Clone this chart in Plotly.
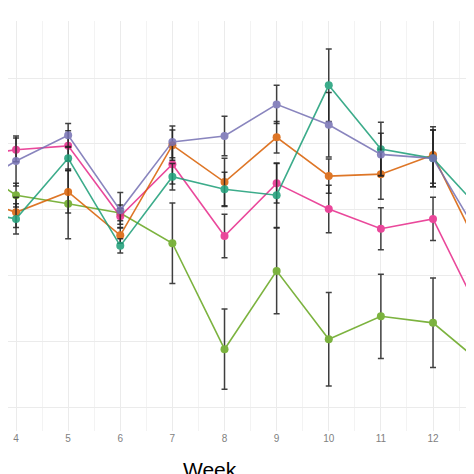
import plotly.graph_objects as go

weeks = [3, 4, 5, 6, 7, 8, 9, 10, 11, 12, 13]
purple = [32.7, 37.4, 41.3, 29.9, 40.3, 41.2, 46.0, 42.9, 38.4, 37.8, 24.5]
pink = [38.0, 39.1, 39.7, 29.0, 36.9, 26.0, 34.0, 30.1, 27.1, 28.6, 12.6]
teal = [30.1, 28.6, 37.8, 24.5, 35.0, 33.1, 32.2, 48.9, 39.2, 37.8, 29.2]
orange = [32.2, 29.6, 32.7, 26.1, 39.8, 34.2, 41.0, 35.1, 35.4, 38.3, 22.2]
green = [37.5, 32.2, 30.9, 29.5, 24.9, 8.8, 20.7, 10.3, 13.8, 12.8, 6.2]

purple_err = [2.3, 3.8, 1.8, 2.7, 2.4, 3.0, 2.9, 4.9, 3.2, 4.3, 2.3]
pink_err = [2.3, 1.8, 2.3, 1.2, 3.0, 3.3, 3.0, 3.6, 3.2, 3.3, 2.3]
teal_err = [2.3, 2.3, 1.8, 1.1, 2.0, 2.6, 4.9, 5.5, 4.1, 4.3, 2.3]
orange_err = [2.3, 2.3, 3.2, 1.2, 2.3, 3.6, 2.4, 2.6, 3.8, 4.3, 2.3]
green_err = [2.3, 1.8, 5.3, 1.2, 6.1, 6.1, 6.5, 7.1, 6.4, 6.8, 2.3]

series = [
    ("green", green, green_err, "#66a61e"),
    ("pink", pink, pink_err, "#e7298a"),
    ("orange", orange, orange_err, "#d95f02"),
    ("teal", teal, teal_err, "#1b9e77"),
    ("purple", purple, purple_err, "#7570b3"),
]

fig = go.Figure()
for name, y, e, c in series:
    fig.add_trace(go.Scatter(
        x=weeks, y=y, mode="lines+markers", name=name,
        line=dict(color=c, width=1.6), opacity=0.85,
        marker=dict(color=c, size=8),
        error_y=dict(type="data", array=e, visible=True, color="#222222",
                     thickness=1.5, width=3),
        showlegend=False,
    ))

fig.update_layout(
    width=474, height=474,
    margin=dict(l=0, r=0, t=13, b=51),
    plot_bgcolor="white", paper_bgcolor="white",
    font=dict(family="Liberation Sans, Arial, sans-serif"),
    xaxis=dict(range=[3.846, 12.94], dtick=1, tick0=0, showgrid=True,
               gridcolor="#ebebeb", gridwidth=1, zeroline=False,
               showline=False, ticks="",
               tickfont=dict(size=10, color="#7f7f7f"),
               minor=dict(dtick=0.5, tick0=0.5, showgrid=True, gridcolor="#f3f3f3")),
    yaxis=dict(range=[-3.63, 58.67], dtick=10, tick0=0, showgrid=True,
               gridcolor="#ebebeb", zeroline=False, showticklabels=False,
               showline=False),
    annotations=[dict(text="Week", x=0.426, y=-0.095, xref="paper", yref="paper",
                      xanchor="center", yanchor="middle", showarrow=False,
                      font=dict(size=21, color="black"))],
)

fig.write_html("out.html")
